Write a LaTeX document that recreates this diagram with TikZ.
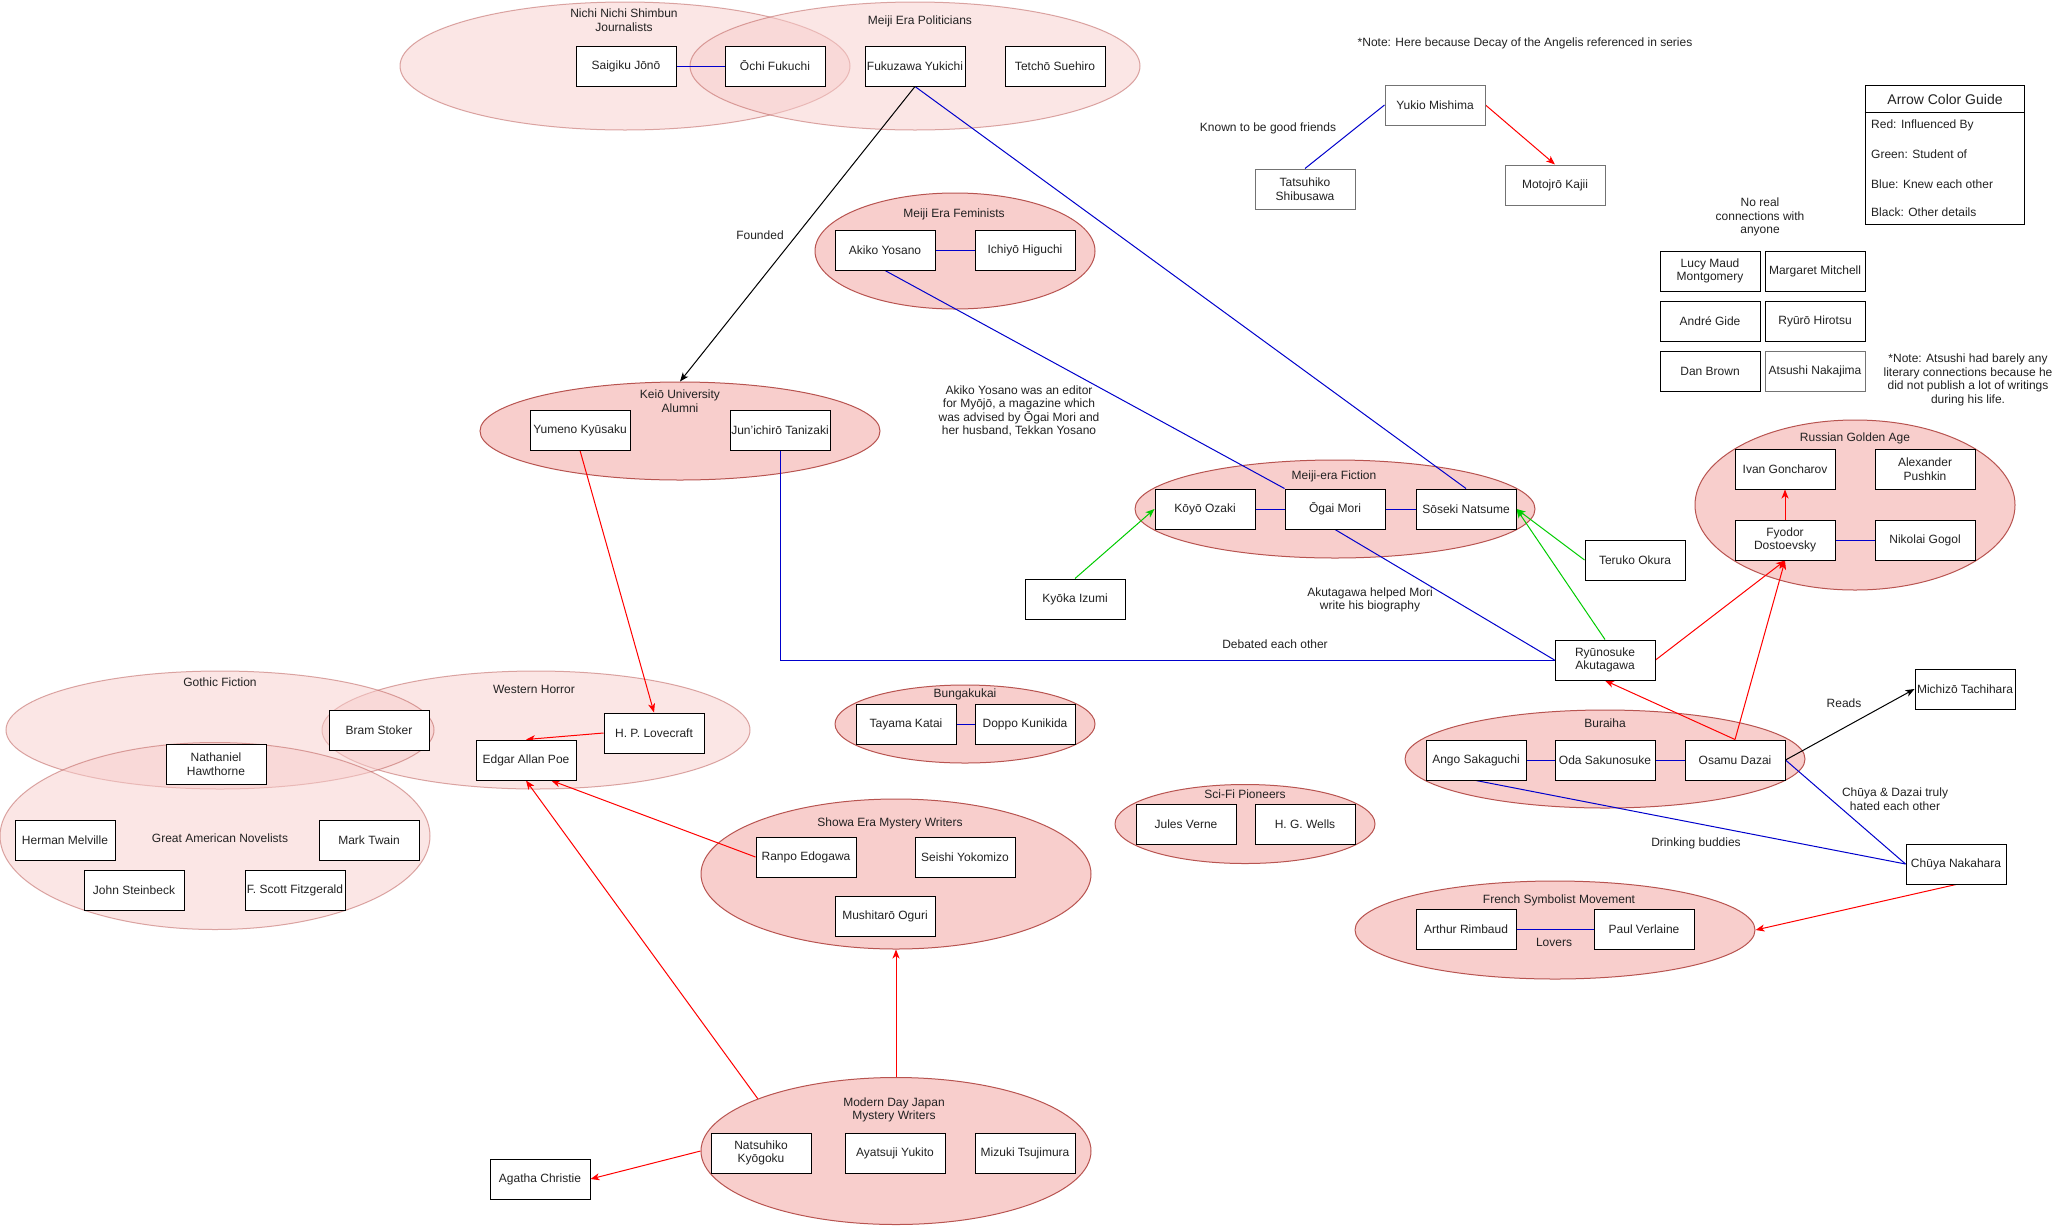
\documentclass[tikz,border=0pt]{standalone}
\usepackage{fontspec}
\setmainfont{Liberation Sans}
\usetikzlibrary{shapes.geometric,arrows.meta,calc}
\pgfdeclarelayer{ellayer}
\pgfdeclarelayer{edgelayer}
\pgfsetlayers{ellayer,edgelayer,main}
\definecolor{ellfill}{HTML}{F8CECC}
\definecolor{ellline}{HTML}{B85450}
\definecolor{cblue}{HTML}{0000CC}
\definecolor{cred}{HTML}{FF0000}
\definecolor{cgreen}{HTML}{00CC00}
\definecolor{txt}{HTML}{222222}
\newcommand{\dfont}{\fontsize{12}{13.5}\selectfont}
\tikzset{
  box/.style={draw=black, fill=white, line width=1pt, minimum width=100pt, minimum height=40pt, inner sep=1pt, align=center, font=\dfont, text=txt},
  grp/.style={ellipse, draw=ellline, fill=ellfill, line width=1pt, inner sep=0pt},
  grpsemi/.style={grp, fill opacity=0.5, draw opacity=0.5},
  lbl/.style={align=center, inner sep=0pt, font=\dfont, text=txt},
  tip/.style={-{Stealth[length=9pt,width=7pt,inset=2.5pt]}},
  knew/.style={draw=cblue, line width=1pt},
  infl/.style={draw=cred, line width=1pt, tip},
  stud/.style={draw=cgreen, line width=1pt, tip},
  other/.style={draw=black, line width=1pt, tip}
}
\begin{document}
\begin{tikzpicture}[x=1pt,y=-1pt]
\useasboundingbox (0,0) rectangle (2061,1227);

\begin{pgfonlayer}{ellayer}
\fill[white] (0,0) rectangle (2061,1227);
\node[grpsemi, minimum width=450pt, minimum height=128pt] (eNichi) at (625,66) {};
\node[grpsemi, minimum width=450pt, minimum height=128pt] (ePol) at (915,66) {};
\node[grp, minimum width=280pt, minimum height=116pt] (eFem) at (955,251) {};
\node[grp, minimum width=400pt, minimum height=98pt] (eKeio) at (680,431) {};
\node[grp, minimum width=400pt, minimum height=98pt] (eFic) at (1335,509) {};
\node[grp, minimum width=320pt, minimum height=170pt] (eRus) at (1855,505) {};
\node[grp, minimum width=400pt, minimum height=98pt] (eBur) at (1605,759) {};
\node[grp, minimum width=400pt, minimum height=98pt] (eFr) at (1555,930) {};
\node[grp, minimum width=260pt, minimum height=78pt] (eBun) at (965,724) {};
\node[grp, minimum width=260pt, minimum height=79pt] (eSci) at (1245,824) {};
\node[grp, minimum width=390pt, minimum height=150pt] (eShowa) at (896,874) {};
\node[grp, minimum width=390pt, minimum height=147pt] (eModern) at (896,1151) {};
\node[grpsemi, minimum width=428pt, minimum height=118pt] (eWest) at (536,730) {};
\node[grpsemi, minimum width=428pt, minimum height=118pt] (eGoth) at (220,730) {};
\node[grpsemi, minimum width=430pt, minimum height=187pt] (eGAN) at (215,836) {};
\end{pgfonlayer}

% group labels
\node[lbl] (lNichi) at (624,20) {Nichi Nichi Shimbun\\Journalists};
\node[lbl] (lPol) at (920,21) {Meiji Era Politicians};
\node[lbl] (lFem) at (954,214) {Meiji Era Feminists};
\node[lbl] (lKeio) at (680,401) {Keiō University\\Alumni};
\node[lbl] (lFic) at (1334,476) {Meiji-era Fiction};
\node[lbl] (lRus) at (1855,438) {Russian Golden Age};
\node[lbl] (lBur) at (1605,723) {Buraiha};
\node[lbl] (lFr) at (1559,900) {French Symbolist Movement};
\node[lbl] (lBun) at (965,694) {Bungakukai};
\node[lbl] (lSci) at (1245,794) {Sci-Fi Pioneers};
\node[lbl] (lShowa) at (890,823) {Showa Era Mystery Writers};
\node[lbl] (lModern) at (894,1110) {Modern Day Japan\\Mystery Writers};
\node[lbl] (lWest) at (534,689) {Western Horror};
\node[lbl] (lGoth) at (220,682) {Gothic Fiction};
\node[lbl] (lGAN) at (220,838) {Great American Novelists};

% other labels
\node[lbl] (tFounded) at (760,235) {Founded};
\node[lbl] (tAkiko) at (1019,411) {Akiko Yosano was an editor\\for Myōjō, a magazine which\\was advised by Ōgai Mori and\\her husband, Tekkan Yosano};
\node[lbl] (tHelped) at (1370,600) {Akutagawa helped Mori\\write his biography};
\node[lbl] (tDebated) at (1275,644) {Debated each other};
\node[lbl] (tFriends) at (1268,128) {Known to be good friends};
\node[lbl] (tNoteTop) at (1525,43) {*Note: Here because Decay of the Angelis referenced in series};
\node[lbl] (tNoReal) at (1760,217) {No real\\connections with\\anyone};
\node[lbl] (tAtsushi) at (1968,380) {*Note: Atsushi had barely any\\literary connections because he\\did not publish a lot of writings\\during his life.};
\node[lbl] (tReads) at (1844,703) {Reads};
\node[lbl] (tHated) at (1895,799) {Chūya \& Dazai truly\\hated each other};
\node[lbl] (tDrinking) at (1696,843) {Drinking buddies};
\node[lbl] (tLovers) at (1554,942) {Lovers};

% boxes
\node[box] (saigiku) at (626,66) {Saigiku Jōnō};
\node[box] (ochi) at (775,66) {Ōchi Fukuchi};
\node[box] (fuku) at (915,66) {Fukuzawa Yukichi};
\node[box] (tetcho) at (1055,66) {Tetchō Suehiro};
\node[box] (akiko) at (885,250) {Akiko Yosano};
\node[box] (ichiyo) at (1025,250) {Ichiyō Higuchi};
\node[box] (yumeno) at (580,430) {Yumeno Kyūsaku};
\node[box] (tani) at (780,430) {Jun'ichirō Tanizaki};
\node[box] (koyo) at (1205,509) {Kōyō Ozaki};
\node[box] (ogai) at (1335,509) {Ōgai Mori};
\node[box] (soseki) at (1466,509) {Sōseki Natsume};
\node[box] (kyoka) at (1075,599) {Kyōka Izumi};
\node[box] (teruko) at (1635,560) {Teruko Okura};
\node[box] (ryu) at (1605,660) {Ryūnosuke\\Akutagawa};
\node[box, draw=black!55] (mishima) at (1435,105) {Yukio Mishima};
\node[box, draw=black!55] (tatsu) at (1305,189) {Tatsuhiko\\Shibusawa};
\node[box, draw=black!55] (kajii) at (1555,185) {Motojrō Kajii};
\node[box] (lucy) at (1710,271) {Lucy Maud\\Montgomery};
\node[box] (margaret) at (1815,271) {Margaret Mitchell};
\node[box] (andre) at (1710,321) {André Gide};
\node[box] (ryuro) at (1815,321) {Ryūrō Hirotsu};
\node[box] (dan) at (1710,371) {Dan Brown};
\node[box, draw=black!55] (atsushi) at (1815,371) {Atsushi Nakajima};
\node[box] (gonch) at (1785,469) {Ivan Goncharov};
\node[box] (push) at (1925,469) {Alexander\\Pushkin};
\node[box] (dost) at (1785,540) {Fyodor\\Dostoevsky};
\node[box] (gogol) at (1925,540) {Nikolai Gogol};
\node[box] (ango) at (1476,760) {Ango Sakaguchi};
\node[box] (oda) at (1605,760) {Oda Sakunosuke};
\node[box] (dazai) at (1735,760) {Osamu Dazai};
\node[box] (michizo) at (1965,689) {Michizō Tachihara};
\node[box] (chuya) at (1956,864) {Chūya Nakahara};
\node[box] (rimbaud) at (1466,929) {Arthur Rimbaud};
\node[box] (verlaine) at (1644,929) {Paul Verlaine};
\node[box] (tayama) at (906,724) {Tayama Katai};
\node[box] (doppo) at (1025,724) {Doppo Kunikida};
\node[box] (verne) at (1186,824) {Jules Verne};
\node[box] (wells) at (1305,824) {H. G. Wells};
\node[box] (ranpo) at (806,857) {Ranpo Edogawa};
\node[box] (seishi) at (965,857) {Seishi Yokomizo};
\node[box] (mushi) at (885,916) {Mushitarō Oguri};
\node[box] (natsu) at (761,1153) {Natsuhiko\\Kyōgoku};
\node[box] (ayatsuji) at (895,1153) {Ayatsuji Yukito};
\node[box] (mizuki) at (1025,1153) {Mizuki Tsujimura};
\node[box] (agatha) at (540,1179) {Agatha Christie};
\node[box] (bram) at (379,730) {Bram Stoker};
\node[box] (nath) at (216,764) {Nathaniel\\Hawthorne};
\node[box] (lov) at (654,733) {H. P. Lovecraft};
\node[box] (poe) at (526,760) {Edgar Allan Poe};
\node[box] (melville) at (65,840) {Herman Melville};
\node[box] (twain) at (369,840) {Mark Twain};
\node[box] (steinbeck) at (134,890) {John Steinbeck};
\node[box] (fitz) at (295,890) {F. Scott Fitzgerald};

% colour guide
\node[draw=black, line width=1pt, fill=white, minimum width=159pt, minimum height=139pt, inner sep=0pt] (guide) at (1944.5,155) {};
\draw[line width=1pt] ($(guide.north west)+(0,27)$) coordinate (gl) -- (gl -| guide.east);
\node[lbl, font=\fontsize{14}{16}\selectfont] (gHead) at (1945,99) {Arrow Color Guide};
\node[lbl, anchor=west] (gRed) at (1871,125) {Red: Influenced By};
\node[lbl, anchor=west] (gGreen) at (1871,154) {Green: Student of};
\node[lbl, anchor=west] (gBlue) at (1871,184) {Blue: Knew each other};
\node[lbl, anchor=west] (gBlack) at (1871,212) {Black: Other details};

% connectors
\begin{pgfonlayer}{edgelayer}
\draw[knew] (saigiku.east) -- (ochi.west);
\draw[other] (fuku.south) -- (eKeio.north);
\draw[knew] (fuku.south) -- (soseki.north);
\draw[knew] (akiko.east) -- (ichiyo.west);
\draw[knew] (akiko.south) -- (ogai.north west);
\draw[knew] (koyo.east) -- (ogai.west);
\draw[knew] (ogai.east) -- (soseki.west);
\draw[stud] (kyoka.north) -- (koyo.west);
\draw[stud] (teruko.west) -- (soseki.east);
\draw[stud] (ryu.north) -- (soseki.east);
\draw[knew] (ogai.south) -- (ryu.west);
\draw[knew] (tani.south) |- (ryu.west);
\draw[infl] (yumeno.south) -- (lov.north);
\draw[infl] (lov.west) -- (poe.north);
\draw[infl] (ranpo.west) -- ($(poe.south)!0.5!(poe.south east)$);
\draw[infl] (eModern.north west) -- (poe.south);
\draw[infl] (eModern.north) -- (eShowa.south);
\draw[infl] (eModern.west) -- (agatha.east);
\draw[infl] (ryu.east) -- (dost.south);
\draw[infl] (dazai.north) -- (dost.south);
\draw[infl] (dost.north) -- (gonch.south);
\draw[knew] (dost.east) -- (gogol.west);
\draw[infl] (dazai.north) -- (ryu.south);
\draw[knew] (ango.east) -- (oda.west);
\draw[knew] (oda.east) -- (dazai.west);
\draw[other] (dazai.east) -- (michizo.west);
\draw[knew] (dazai.east) -- (chuya.west);
\draw[knew] (ango.south) -- (chuya.west);
\draw[infl] (chuya.south) -- (eFr.east);
\draw[knew] (rimbaud.east) -- (verlaine.west);
\draw[knew] (tayama.east) -- (doppo.west);
\draw[knew] (mishima.west) -- (tatsu.north);
\draw[infl] (mishima.east) -- (kajii.north);
\end{pgfonlayer}
\end{tikzpicture}
\end{document}
